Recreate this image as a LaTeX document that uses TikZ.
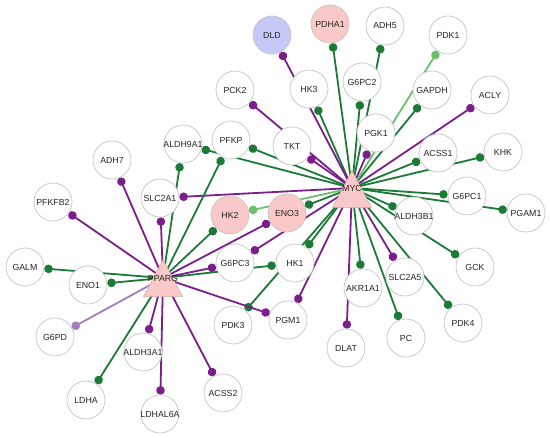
\documentclass[tikz,border=0pt]{standalone}
\usepackage{fontspec}
\setmainfont{Liberation Sans}
\usetikzlibrary{arrows.meta,shapes.geometric,backgrounds}
\definecolor{posgreen}{HTML}{1B7A36}
\definecolor{negpurple}{HTML}{7B1E8C}
\definecolor{weakgreen}{HTML}{6CC06C}
\definecolor{weakpurple}{HTML}{A57BBE}
\definecolor{hitpink}{HTML}{F9C8C8}
\definecolor{hitblue}{HTML}{C8C8F6}
\definecolor{ringgray}{HTML}{C4C4C4}

\begin{document}
\begin{tikzpicture}[x=1pt,y=-1pt,
  genetext/.style={font=\fontsize{8.8}{10}\selectfont,text=black!85,inner sep=0pt},
  gene/.style={circle,draw=ringgray,line width=0.7pt,fill=white,minimum size=38pt,inner sep=0pt,
    label={[genetext]center:#1}},
  geneup/.style={gene=#1,fill=hitpink},
  genedown/.style={gene=#1,fill=hitblue},
  tf/.style={isosceles triangle,isosceles triangle stretches,shape border rotate=90,
    minimum width=39pt,minimum height=37pt,inner sep=0pt,fill=hitpink,draw=hitpink!85!black,line width=0.5pt},
  link/.style={line width=1.8pt,-{Circle[length=8.5pt]}},
  uplink/.style={link,posgreen},
  downlink/.style={link,negpurple},
  weakup/.style={link,weakgreen},
  weakdown/.style={link,weakpurple}]
  \useasboundingbox (0,0) rectangle (550,438);

  % transcription factors
  \node[tf,anchor=apex] (myctri) at (352,170) {};
  \node[genetext] (myc) at (352,188) {MYC};
  \node[tf,anchor=apex] (ppargtri) at (163,259) {};
  \node[genetext] (pparg) at (163,278) {PPARG};

  % target genes
  \node[genedown=DLD] (dld) at (272,35) {};
  \node[geneup=PDHA1] (pdha1) at (330,24) {};
  \node[gene=ADH5] (adh5) at (385,26) {};
  \node[gene=PDK1] (pdk1) at (448,35) {};
  \node[gene=PCK2] (pck2) at (235,90) {};
  \node[gene=HK3] (hk3) at (309,89) {};
  \node[gene=G6PC2] (g6pc2) at (362,82) {};
  \node[gene=GAPDH] (gapdh) at (432,90) {};
  \node[gene=ACLY] (acly) at (490,95) {};
  \node[gene=ADH7] (adh7) at (112,160) {};
  \node[gene=ALDH9A1] (aldh9a1) at (183,144) {};
  \node[gene=PFKP] (pfkp) at (231,140) {};
  \node[gene=TKT] (tkt) at (292,146) {};
  \node[gene=PGK1] (pgk1) at (376,133) {};
  \node[gene=ACSS1] (acss1) at (438,153) {};
  \node[gene=KHK] (khk) at (503,152) {};
  \node[gene=PFKFB2] (pfkfb2) at (53,202) {};
  \node[gene=SLC2A1] (slc2a1) at (160,198) {};
  \node[geneup=HK2] (hk2) at (230,215) {};
  \node[geneup=ENO3] (eno3) at (287,213) {};
  \node[gene=ALDH3B1] (aldh3b1) at (414,216) {};
  \node[gene=G6PC1] (g6pc1) at (467,196) {};
  \node[gene=PGAM1] (pgam1) at (526,213) {};
  \node[gene=GALM] (galm) at (25,267) {};
  \node[gene=ENO1] (eno1) at (88,285) {};
  \node[gene=G6PC3] (g6pc3) at (235,263) {};
  \node[gene=HK1] (hk1) at (295,263) {};
  \node[gene=GCK] (gck) at (475,267) {};
  \node[gene=SLC2A5] (slc2a5) at (405,277) {};
  \node[gene=AKR1A1] (akr1a1) at (363,288) {};
  \node[gene=G6PD] (g6pd) at (55,337) {};
  \node[gene=ALDH3A1] (aldh3a1) at (143,352) {};
  \node[gene=PDK3] (pdk3) at (233,325) {};
  \node[gene=PGM1] (pgm1) at (288,320) {};
  \node[gene=PDK4] (pdk4) at (463,323) {};
  \node[gene=PC] (pc) at (406,338) {};
  \node[gene=DLAT] (dlat) at (346,348) {};
  \node[gene=LDHA] (ldha) at (86,400) {};
  \node[gene=LDHAL6A] (ldhal6a) at (160,414) {};
  \node[gene=ACSS2] (acss2) at (223,393) {};

  % regulation links, under the nodes
  \begin{scope}[on background layer]
    \foreach \g in {pdha1,adh5,g6pc2,hk3,pfkp,aldh9a1,gapdh,acss1,khk,g6pc1,pgam1,
                    aldh3b1,gck,pdk4,pc,akr1a1,hk1,pdk3,eno3}
      \draw[uplink] (myc.center) -- (\g);
    \foreach \g in {dld,pck2,tkt,pgk1,acly,slc2a5,dlat,pgm1,g6pc3,slc2a1}
      \draw[downlink] (myc.center) -- (\g);
    \foreach \g in {pdk1,hk2}
      \draw[weakup] (myc.center) -- (\g);
    \foreach \g in {aldh9a1,pfkp,hk2,hk1,galm,eno1,ldha}
      \draw[uplink] (pparg.center) -- (\g);
    \foreach \g in {pfkfb2,adh7,slc2a1,eno3,g6pc3,pgm1,aldh3a1,ldhal6a,acss2}
      \draw[downlink] (pparg.center) -- (\g);
    \draw[weakdown] (pparg.center) -- (g6pd);
  \end{scope}
\end{tikzpicture}
\end{document}
